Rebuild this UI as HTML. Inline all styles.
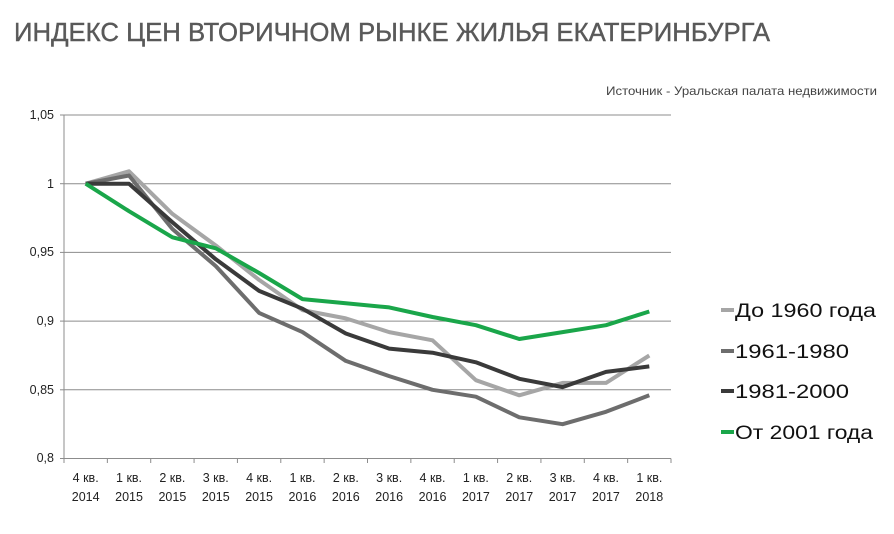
<!DOCTYPE html>
<html><head><meta charset="utf-8"><style>
body{margin:0;background:#fff;}
svg{display:block;font-family:"Liberation Sans","DejaVu Sans",sans-serif;}
</style></head><body>
<svg width="894" height="534" viewBox="0 0 894 534" xmlns="http://www.w3.org/2000/svg">
<text x="14" y="41" font-size="26" fill="#595959" stroke="#595959" stroke-width="0.4" textLength="756" lengthAdjust="spacingAndGlyphs">ИНДЕКС ЦЕН ВТОРИЧНОМ РЫНКЕ ЖИЛЬЯ ЕКАТЕРИНБУРГА</text>
<text x="606" y="95" font-size="12" fill="#444" textLength="271" lengthAdjust="spacingAndGlyphs">Источник - Уральская палата недвижимости</text>
<g stroke="#8c8c8c" stroke-width="1">
<line x1="64" y1="115" x2="671" y2="115"/>
<line x1="64" y1="183.7" x2="671" y2="183.7"/>
<line x1="64" y1="252.4" x2="671" y2="252.4"/>
<line x1="64" y1="321.1" x2="671" y2="321.1"/>
<line x1="64" y1="389.8" x2="671" y2="389.8"/>
<line x1="64" y1="458.5" x2="671" y2="458.5"/>
<line x1="64" y1="115" x2="64" y2="458.5"/>
<line x1="60" y1="115" x2="64" y2="115"/><line x1="60" y1="183.7" x2="64" y2="183.7"/><line x1="60" y1="252.4" x2="64" y2="252.4"/><line x1="60" y1="321.1" x2="64" y2="321.1"/><line x1="60" y1="389.8" x2="64" y2="389.8"/><line x1="60" y1="458.5" x2="64" y2="458.5"/>
</g>
<g stroke="#8c8c8c" stroke-width="1" id="ticks"></g>
<g font-size="12.5" fill="#222" text-anchor="end">
<text x="54" y="119">1,05</text><text x="54" y="188">1</text><text x="54" y="256">0,95</text><text x="54" y="325">0,9</text><text x="54" y="394">0,85</text><text x="54" y="462">0,8</text>
</g>
<g id="xl" font-size="12.5" fill="#222" text-anchor="middle"></g>
<g id="series" fill="none" stroke-width="4" stroke-linejoin="round"></g>
<g font-size="19" fill="#111">
<line x1="721" y1="310" x2="734" y2="310" stroke="#a6a6a6" stroke-width="4"/><text x="735" y="317" textLength="141" lengthAdjust="spacingAndGlyphs">До 1960 года</text>
<line x1="721" y1="351" x2="734" y2="351" stroke="#6d6d6d" stroke-width="4"/><text x="735" y="358" textLength="114" lengthAdjust="spacingAndGlyphs">1961-1980</text>
<line x1="721" y1="391" x2="734" y2="391" stroke="#3a3a3a" stroke-width="4"/><text x="735" y="398" textLength="114" lengthAdjust="spacingAndGlyphs">1981-2000</text>
<line x1="721" y1="432" x2="734" y2="432" stroke="#1aa64a" stroke-width="4"/><text x="735" y="439" textLength="138" lengthAdjust="spacingAndGlyphs">От 2001 года</text>
</g>
<script>
var ns="http://www.w3.org/2000/svg",w=607/14;
function X(i){return 64+w/2+w*i}function Y(v){return 115+(1.05-v)*1374}
var t=document.getElementById("ticks"),xl=document.getElementById("xl");
var q=["4","1","2","3","4","1","2","3","4","1","2","3","4","1"],yr=[2014,2015,2015,2015,2015,2016,2016,2016,2016,2017,2017,2017,2017,2018];
for(var i=0;i<=14;i++){var l=document.createElementNS(ns,"line");var x=64+w*i;l.setAttribute("x1",x);l.setAttribute("x2",x);l.setAttribute("y1",458.5);l.setAttribute("y2",463);t.appendChild(l);}
for(var i=0;i<14;i++){var a=document.createElementNS(ns,"text");a.setAttribute("x",X(i));a.setAttribute("y",482);a.textContent=q[i]+" кв.";xl.appendChild(a);var b=document.createElementNS(ns,"text");b.setAttribute("x",X(i));b.setAttribute("y",501);b.textContent=yr[i];xl.appendChild(b);}
var S=[["#a6a6a6",[1,1.009,0.978,0.955,0.93,0.908,0.902,0.892,0.886,0.857,0.846,0.855,0.855,0.875]],
["#6d6d6d",[1,1.006,0.967,0.94,0.906,0.892,0.871,0.860,0.850,0.845,0.830,0.825,0.834,0.846]],
["#3a3a3a",[1,1,0.972,0.945,0.922,0.909,0.891,0.880,0.877,0.870,0.858,0.852,0.863,0.867]],
["#1aa64a",[1,0.980,0.961,0.953,0.935,0.916,0.913,0.910,0.903,0.897,0.887,0.892,0.897,0.907]]];
var g=document.getElementById("series");
S.forEach(function(s){var p=document.createElementNS(ns,"polyline");p.setAttribute("stroke",s[0]);p.setAttribute("points",s[1].map(function(v,i){return X(i).toFixed(1)+","+Y(v).toFixed(1)}).join(" "));g.appendChild(p);});
</script>
</svg>
</body></html>
